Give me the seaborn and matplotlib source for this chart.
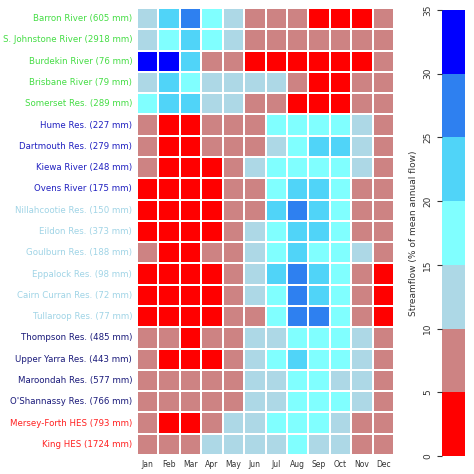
import matplotlib
matplotlib.use("Agg")
import matplotlib.pyplot as plt
import seaborn as sns
import numpy as np
import pandas as pd
from matplotlib.colors import ListedColormap, BoundaryNorm

months = ["Jan","Feb","Mar","Apr","May","Jun","Jul","Aug","Sep","Oct","Nov","Dec"]
sites = ["Barron River (605 mm)","S. Johnstone River (2918 mm)","Burdekin River (76 mm)",
         "Brisbane River (79 mm)","Somerset Res. (289 mm)","Hume Res. (227 mm)",
         "Dartmouth Res. (279 mm)","Kiewa River (248 mm)","Ovens River (175 mm)",
         "Nillahcootie Res. (150 mm)","Eildon Res. (373 mm)","Goulburn Res. (188 mm)",
         "Eppalock Res. (98 mm)","Cairn Curran Res. (72 mm)","Tullaroop Res. (77 mm)",
         "Thompson Res. (485 mm)","Upper Yarra Res. (443 mm)","Maroondah Res. (577 mm)",
         "O'Shannassy Res. (766 mm)","Mersey-Forth HES (793 mm)","King HES (1724 mm)"]
label_colors = ["#44dd44"]*5 + ["#2020c0"]*4 + ["#a0d4e6"]*6 + ["#1a1a7a"]*4 + ["#ff2020"]*2

# streamflow (% of mean annual flow), estimated from colour classes
flow = [
 [12,22,28,18,12,8,8,8,3,3,3,8],
 [12,18,22,18,12,8,8,8,8,8,8,8],
 [33,33,22,8,8,3,3,3,3,3,3,8],
 [12,22,18,12,12,12,12,8,3,3,8,8],
 [18,22,22,12,12,8,8,3,3,3,8,8],
 [8,3,3,8,8,8,18,18,18,18,12,8],
 [8,3,3,8,8,8,12,18,22,22,12,8],
 [8,3,3,3,8,12,18,18,18,18,12,8],
 [3,3,3,3,8,8,18,22,22,18,8,8],
 [3,3,3,3,8,8,22,28,22,18,8,8],
 [3,3,3,3,8,12,18,22,22,18,8,8],
 [8,3,3,8,8,12,18,22,18,18,12,8],
 [3,3,3,3,8,12,22,28,22,18,8,3],
 [3,3,3,3,8,12,18,28,22,18,8,3],
 [3,3,3,3,8,8,18,28,28,18,8,3],
 [8,8,3,8,8,12,12,18,18,18,12,8],
 [8,3,3,3,8,12,18,22,18,18,12,8],
 [8,8,8,8,8,12,12,18,18,12,12,8],
 [8,8,8,8,8,12,12,18,18,18,12,8],
 [8,3,3,8,12,12,18,18,18,12,8,8],
 [8,8,8,12,12,12,12,18,12,12,8,8],
]
df = pd.DataFrame(flow, index=sites, columns=months)

cols = ["#ff0000","#cd8383","#add8e6","#80ffff","#50d4f8","#2e80f0","#0000ff"]
cmap = ListedColormap(cols)
bounds = [0,5,10,15,20,25,30,35]
norm = BoundaryNorm(bounds, cmap.N)

fig = plt.figure(figsize=(4.74,4.74), dpi=100)
ax = fig.add_axes([137/474, 1-455/474, 257/474, 447/474])
cax = fig.add_axes([442/474, 1-456/474, 23/474, 446/474])
sns.heatmap(df, ax=ax, cmap=cmap, norm=norm, linewidths=1.2, linecolor="white",
            cbar_ax=cax, cbar_kws={"ticks": bounds})
ax.tick_params(length=0, labelsize=6.2, colors="#333333")
ax.set_xticklabels(months, rotation=0, fontsize=5.5)
ax.set_yticklabels(sites, rotation=0, fontsize=6.2)
for t, c in zip(ax.get_yticklabels(), label_colors):
    t.set_color(c)
cax.yaxis.set_ticks_position("left")
cax.yaxis.set_label_position("left")
cax.tick_params(labelsize=6.5, rotation=90, colors="#333333")
for t in cax.get_yticklabels():
    t.set_va("center")
cax.set_ylabel("Streamflow (% of mean annual flow)", fontsize=6.5, color="#333333")
for s in cax.spines.values():
    s.set_visible(False)
fig.savefig("out.png", dpi=100)
